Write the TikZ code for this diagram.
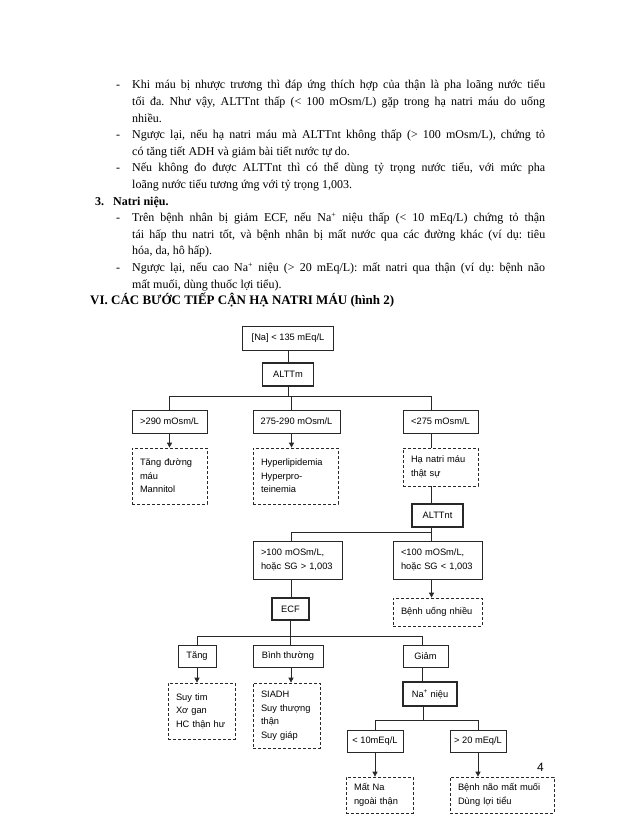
\documentclass[tikz,border=0pt]{standalone}
\usepackage{fontspec}
\setmainfont{Liberation Serif}
\setsansfont{Liberation Sans}
\usetikzlibrary{arrows.meta, positioning}
\definecolor{chartline}{RGB}{40,40,40}
\tolerance=10000
\hyphenpenalty=10000
\frenchspacing

\begin{document}
\begin{tikzpicture}[
    x=1pt, y=-1pt,
    body/.style={inner sep=0pt, anchor=base west, font=\fontsize{12}{16.6}\selectfont},
    para/.style={body, text width=413pt, align=justify},
    box/.style={draw=chartline, line width=0.7pt, inner sep=0pt, font=\fontsize{9.3}{13.5}\selectfont\sffamily},
    keybox/.style={box, line width=1.6pt},
    leftbox/.style={box, align=left, inner xsep=8pt},
    resbox/.style={leftbox, dash pattern=on 3pt off 2pt},
    link/.style={draw=chartline, line width=0.7pt},
    arr/.style={link, -{Triangle[length=5pt, width=5pt]}}
  ]
  \fill[white] (0,0) rectangle (638,826);
  \useasboundingbox (0,0) rectangle (638,826);

  % text above the chart
  \foreach \yy [count=\i] in {89,138.8,172,221.8,271.6}
    \node[body] (dash\i) at (116,\yy) {-};
  \node[para] (p1) at (132,89) {Khi máu bị nhược trương thì đáp ứng thích hợp của thận là pha loãng nước tiểu\linebreak tối đa. Như vậy, ALTTnt thấp (< 100 mOsm/L) gặp trong hạ natri máu do uống\linebreak nhiều.};
  \node[para] (p2) at (132,138.8) {Ngược lại, nếu hạ natri máu mà ALTTnt không thấp (> 100 mOsm/L), chứng tỏ\linebreak có tăng tiết ADH và giảm bài tiết nước tự do.};
  \node[para] (p3) at (132,172) {Nếu không đo được ALTTnt thì có thể dùng tỷ trọng nước tiểu, với mức pha\linebreak loãng nước tiểu tương ứng với tỷ trọng 1,003.};
  \node[body, font=\fontsize{12}{16.6}\selectfont\bfseries] (sec) at (95,205.2) {\makebox[18pt][l]{3.}Natri niệu.};
  \node[para] (p4) at (132,221.8) {Trên bệnh nhân bị giảm ECF, nếu Na\textsuperscript{+} niệu thấp (< 10 mEq/L) chứng tỏ thận\linebreak tái hấp thu natri tốt, và bệnh nhân bị mất nước qua các đường khác (ví dụ: tiêu\linebreak hóa, da, hô hấp).};
  \node[para] (p5) at (132,271.6) {Ngược lại, nếu cao Na\textsuperscript{+} niệu (> 20 mEq/L): mất natri qua thận (ví dụ: bệnh não\linebreak mất muối, dùng thuốc lợi tiểu).};
  \node[body, font=\fontsize{13}{16}\selectfont\bfseries] (title) at (90,304.8) {VI. CÁC BƯỚC TIẾP CẬN HẠ NATRI MÁU (hình 2)};

  % chart
  \node[box, minimum width=91pt, minimum height=24pt] (na) at (288,338) {[Na] < 135 mEq/L};
  \node[keybox, minimum width=51pt, minimum height=23pt] (altm) at (288,374.5) {ALTTm};
  \node[box, minimum width=75pt, minimum height=23pt] (hi) at (169.5,421.5) {>290 mOsm/L};
  \node[box, minimum width=87pt, minimum height=23pt] (mid) at (296.5,421.5) {275-290 mOsm/L};
  \node[box, minimum width=75pt, minimum height=23pt] (lo) at (440.5,421.5) {<275 mOsm/L};
  \node[resbox, text width=59pt, minimum height=56pt] (glu) at (169.5,476) {Tăng đường\\máu\\Mannitol};
  \node[resbox, text width=69pt, minimum height=56pt] (lip) at (295.5,476) {Hyperlipidemia\\Hyperpro-\\teinemia};
  \node[resbox, text width=59pt, minimum height=38pt] (true) at (440.5,467) {Hạ natri máu\\thật sự};
  \node[keybox, minimum width=51pt, minimum height=23pt] (altnt) at (437.5,515.5) {ALTTnt};
  \node[leftbox, text width=73pt, minimum height=38pt] (gt) at (297.5,560) {>100 mOSm/L,\\hoặc~SG~>~1,003};
  \node[leftbox, text width=73pt, minimum height=38pt] (lt) at (437.5,560) {<100 mOSm/L,\\hoặc~SG~<~1,003};
  \node[keybox, minimum width=37pt, minimum height=22pt] (ecf) at (290.5,609) {ECF};
  \node[resbox, text width=73pt, minimum height=28pt] (drink) at (437.5,612) {Bệnh uống nhiều};
  \node[box, minimum width=38pt, minimum height=22pt] (up) at (197,656) {Tăng};
  \node[box, minimum width=70pt, minimum height=22pt] (norm) at (288,656) {Bình thường};
  \node[box, minimum width=45pt, minimum height=22pt] (down) at (425.5,656) {Giảm};
  \node[resbox, text width=51pt, minimum height=56pt] (heart) at (201.5,711) {Suy tim\\Xơ gan\\HC~thận~hư};
  \node[resbox, text width=51pt, minimum height=65pt] (siadh) at (286.5,715.5) {SIADH\\Suy~thượng\\thận\\Suy giáp};
  \node[keybox, minimum width=54pt, minimum height=24pt] (urine) at (430,694) {Na\textsuperscript{+} niệu};
  \node[box, minimum width=56pt, minimum height=22pt] (low) at (375,741) {< 10mEq/L};
  \node[box, minimum width=56pt, minimum height=22pt] (high) at (478,741) {> 20 mEq/L};
  \node[resbox, text width=51pt, minimum height=36pt] (extra) at (379.5,795) {Mất Na\\ngoài thận};
  \node[resbox, text width=88pt, minimum height=36pt] (renal) at (502,795) {Bệnh não mất muối\\Dùng lợi tiểu};
  \node[body, font=\fontsize{12}{14}\selectfont\sffamily] (pagenum) at (537,771) {4};

  \draw[link] (na) -- (altm);
  \draw[link] (altm.south) -- ++(0,10) coordinate (fork1);
  \draw[link] (hi.north) |- (fork1) -| ([xshift=-9pt]lo.north);
  \draw[link] ([xshift=-5pt]mid.north) -- ([xshift=-5pt]mid.north |- fork1);
  \draw[arr] (hi) -- (glu);
  \draw[arr] ([xshift=-5pt]mid.south) -- ([xshift=-5pt]mid.south |- lip.north);
  \draw[link] ([xshift=-9pt]lo.south) -- ([xshift=-9pt]lo.south |- true.north);
  \draw[link] ([xshift=-9pt]true.south) -- ([xshift=-9pt]true.south |- altnt.north);
  \draw[link] ([xshift=-6pt]altnt.south) -- ++(0,5) coordinate (fork2);
  \draw[link] (fork2) -| ([xshift=-6pt]gt.north);
  \draw[link] (fork2) -- (fork2 |- lt.north);
  \draw[arr] ([xshift=-6pt]lt.south) -- ([xshift=-6pt]lt.south |- drink.north);
  \draw[link] ([xshift=-6pt]gt.south) -- ([xshift=-6pt]gt.south |- ecf.north);
  \draw[link] (ecf.south) -- ++(0,16) coordinate (fork3);
  \draw[link] (up.north) |- (fork3) -| ([xshift=-3.5pt]down.north);
  \draw[link] (fork3) -- (fork3 |- norm.north);
  \draw[arr] (up.south) -- (up.south |- heart.north);
  \draw[arr] ([xshift=3pt]norm.south) -- ([xshift=3pt]norm.south |- siadh.north);
  \draw[link] ([xshift=-3.5pt]down.south) -- ([xshift=-3.5pt]down.south |- urine.north);
  \draw[link] ([xshift=-7pt]urine.south) -- ++(0,14) coordinate (fork4);
  \draw[link] (low.north) |- (fork4) -| (high.north);
  \draw[arr] (low.south) -- (low.south |- extra.north);
  \draw[arr] (high.south) -- (high.south |- renal.north);
\end{tikzpicture}
\end{document}
